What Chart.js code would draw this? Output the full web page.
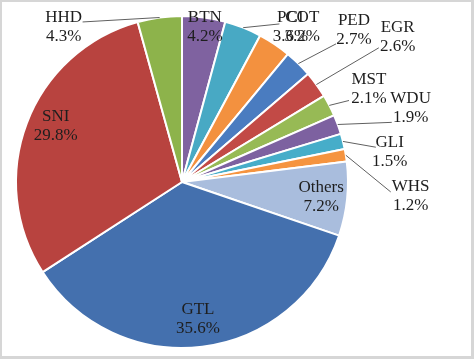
<!DOCTYPE html>
<html>
<head>
<meta charset="utf-8">
<script src="https://cdn.jsdelivr.net/npm/chart.js@4/dist/chart.umd.min.js"></script>
<style>
  body { margin: 0; background: #fff; }
  #wrap { width: 474px; height: 359px; }
</style>
</head>
<body>
<div id="wrap"><canvas id="pie"></canvas></div>
<script>
// data, clockwise from 12 o'clock
const categories = ['BTN', 'PCI', 'COT', 'PED', 'EGR', 'MST', 'WDU', 'GLI', 'WHS', 'Others', 'GTL', 'SNI', 'HHD'];
const shares = [4.2, 3.6, 3.2, 2.7, 2.6, 2.1, 1.9, 1.5, 1.2, 7.2, 35.6, 29.8, 4.3];
const sliceColors = ['#7F62A0', '#48A9C4', '#F3913F', '#4A7CC0', '#C24A46', '#97BA55', '#7D61A0', '#46ADC9', '#F59440', '#A9BDDD', '#4470AE', '#B8433F', '#8DB34B'];

// label placement, px from pie centre (for a 167px radius): [label x, label y, leader end x, leader end y]
const labelSpots = [
    [23, -156, null, null],
    [109, -156, 98, -159],
    [121, -156, null, null],
    [173, -153, 155, -139],
    [217, -146, 198, -135],
    [188, -94, 168, -82],
    [230, -74, 211, -60],
    [209, -30, 195, -35],
    [230, 14, 210, 10],
    [140, 15, null, null],
    [16, 138, null, null],
    [-127, -56, null, null],
    [-119, -156, -100, -161]
];

const frame = {
    id: 'frame',
    beforeDraw(chart) {
        const ctx = chart.ctx;
        ctx.save();
        ctx.fillStyle = '#d6d6d6';
        ctx.fillRect(0, 0, chart.width, 2);
        ctx.fillRect(0, 0, 2, chart.height);
        ctx.fillRect(chart.width - 3, 0, 3, chart.height);
        ctx.fillRect(0, chart.height - 3, chart.width, 3);
        ctx.restore();
    }
};

const sliceLabels = {
    id: 'sliceLabels',
    afterDraw(chart) {
        const ctx = chart.ctx;
        const arcs = chart.getDatasetMeta(0).data;
        ctx.save();
        ctx.font = '17px "Liberation Serif", "Times New Roman", serif';
        ctx.textAlign = 'center';
        ctx.textBaseline = 'middle';
        arcs.forEach((arc, i) => {
            const k = arc.outerRadius / 167;
            const spot = labelSpots[i];
            const lx = arc.x + spot[0] * k;
            const ly = arc.y + spot[1] * k;
            if (spot[2] !== null) {
                const mid = (arc.startAngle + arc.endAngle) / 2;
                ctx.strokeStyle = '#606060';
                ctx.lineWidth = 1;
                ctx.beginPath();
                ctx.moveTo(arc.x + Math.cos(mid) * arc.outerRadius, arc.y + Math.sin(mid) * arc.outerRadius);
                ctx.lineTo(arc.x + spot[2] * k, arc.y + spot[3] * k);
                ctx.stroke();
            }
            ctx.fillStyle = '#1e1e1e';
            ctx.fillText(categories[i], lx, ly - 9.5);
            ctx.fillText(shares[i].toFixed(1) + '%', lx, ly + 9.5);
        });
        ctx.restore();
    }
};

new Chart(document.getElementById('pie'), {
    type: 'pie',
    data: {
        labels: categories,
        datasets: [{
            data: shares,
            backgroundColor: sliceColors,
            borderColor: '#ffffff',
            borderWidth: 2
        }]
    },
    options: {
        responsive: true,
        maintainAspectRatio: false,
        animation: false,
        layout: { padding: { left: 15, right: 125, top: 15, bottom: 10 } },
        plugins: {
            legend: { display: false },
            tooltip: { enabled: false }
        }
    },
    plugins: [frame, sliceLabels]
});
</script>
</body>
</html>
